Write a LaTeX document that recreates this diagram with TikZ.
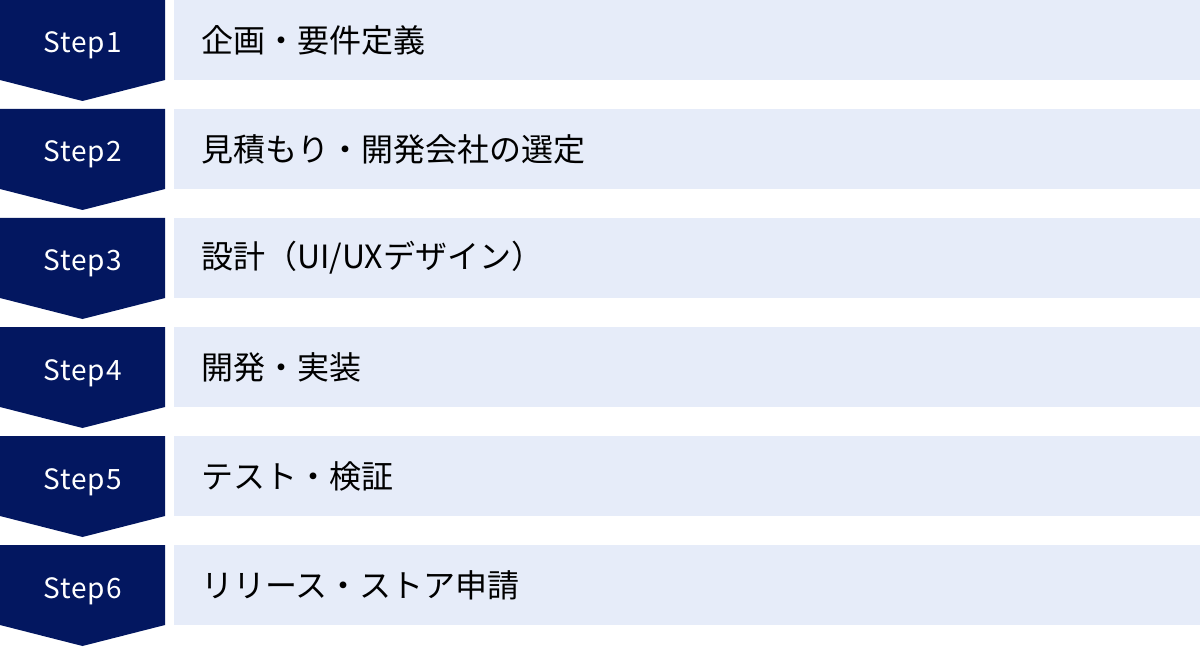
\documentclass[tikz,border=0pt]{standalone}
\usepackage{fontspec}
\setmainfont{Noto Sans CJK JP}
\definecolor{stepnavy}{HTML}{031760}
\definecolor{rowblue}{HTML}{E6ECF9}

\def\pitch{109}
\def\rowh{80}

\begin{document}
\begin{tikzpicture}[x=1pt,y=-1pt,
    badge/.style={fill=stepnavy,draw=none},
    bar/.style={fill=rowblue,draw=none},
    steplabel/.style={anchor=base,text=white,inner sep=0pt,
                      font=\fontsize{28}{28}\selectfont\addfontfeature{LetterSpace=4}},
    task/.style={anchor=west,inner sep=0pt,text=black,font=\fontsize{32}{32}\selectfont},
]
\useasboundingbox (0,0) rectangle (1200,647);

\foreach \i/\txt in {1/企画・要件定義,2/見積もり・開発会社の選定,3/{設計（UI/UXデザイン）},
                     4/開発・実装,5/テスト・検証,6/リリース・ストア申請}{
  \pgfmathsetmacro\rowtop{(\i-1)*\pitch}
  \fill[badge] (0,\rowtop) -- ++(165,0) -- ++(0,\rowh)
               -- ++(-82.5,21) -- ++(-82.5,-21) -- cycle;
  \fill[bar] (174,\rowtop) rectangle ++(1026,\rowh);
  \node[steplabel] (s\i) at (82.5,\rowtop+53) {Step\i};
  \node[task] (t\i) at (201,\rowtop+40) {\txt};
}

\end{tikzpicture}
\end{document}
